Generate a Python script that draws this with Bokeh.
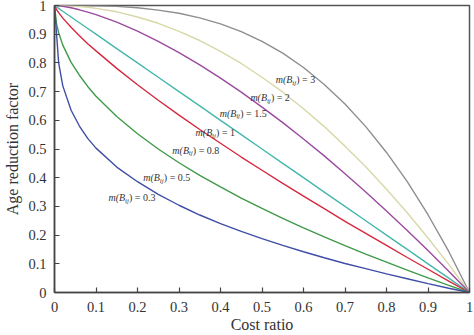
from bokeh.plotting import figure
from bokeh.embed import file_html
from bokeh.resources import INLINE
from bokeh.models import FixedTicker, CustomJSTickFormatter, Range1d, ColumnDataSource
from bokeh.core.properties import value

# ---- data ----
cost_ratio = [0, 0.005, 0.01, 0.02, 0.04, 0.06, 0.08, 0.1, 0.15, 0.2, 0.25, 0.3, 0.35,
              0.4, 0.45, 0.5, 0.55, 0.6, 0.65, 0.7, 0.75, 0.8, 0.85, 0.9, 0.95, 1]
arf_m03 = [1, 0.90, 0.80, 0.72, 0.635, 0.58, 0.537, 0.503, 0.437, 0.386, 0.342, 0.304, 0.270,
           0.240, 0.213, 0.188, 0.164, 0.142, 0.121, 0.101, 0.083, 0.065, 0.048, 0.031, 0.015, 0]
arf_m05 = [1, 0.935, 0.905, 0.862, 0.802, 0.757, 0.718, 0.684, 0.613, 0.553, 0.5, 0.452, 0.408,
           0.368, 0.329, 0.293, 0.258, 0.225, 0.194, 0.163, 0.134, 0.106, 0.078, 0.051, 0.025, 0]
arf_m08 = [1, 0.986, 0.975, 0.956, 0.924, 0.895, 0.867, 0.842, 0.781, 0.724, 0.670, 0.618, 0.568,
           0.520, 0.472, 0.426, 0.380, 0.336, 0.292, 0.248, 0.206, 0.164, 0.122, 0.081, 0.040, 0]
arf_m1 = [1, 0.995, 0.99, 0.98, 0.96, 0.94, 0.92, 0.9, 0.85, 0.8, 0.75, 0.7, 0.65,
          0.6, 0.55, 0.5, 0.45, 0.4, 0.35, 0.3, 0.25, 0.2, 0.15, 0.1, 0.05, 0]
arf_m15 = [1, 1.0, 0.999, 0.997, 0.992, 0.985, 0.977, 0.968, 0.942, 0.911, 0.875, 0.836, 0.793,
           0.747, 0.698, 0.646, 0.592, 0.535, 0.476, 0.414, 0.350, 0.284, 0.216, 0.146, 0.074, 0]
arf_m2 = [1, 1, 1, 1, 0.998, 0.996, 0.994, 0.99, 0.978, 0.96, 0.938, 0.91, 0.878,
          0.84, 0.798, 0.75, 0.698, 0.64, 0.578, 0.51, 0.438, 0.36, 0.278, 0.19, 0.098, 0]
arf_m3 = [1, 1, 1, 1, 1, 1, 0.999, 0.999, 0.997, 0.992, 0.984, 0.973, 0.957,
          0.936, 0.909, 0.875, 0.834, 0.784, 0.725, 0.657, 0.578, 0.488, 0.386, 0.271, 0.143, 0]

m_values = ["3", "2", "1.5", "1", "0.8", "0.5", "0.3"]
series = [arf_m3, arf_m2, arf_m15, arf_m1, arf_m08, arf_m05, arf_m03]

x_ticks = [0, 0.1, 0.2, 0.3, 0.4, 0.5, 0.6, 0.7, 0.8, 0.9, 1]
x_tick_labels = ["0", "0.1", "0.2", "0.3", "0.4", "0.5", "0.6", "0.7", "0.8", "0.9", "1"]
y_ticks = [0, 0.1, 0.2, 0.3, 0.4, 0.5, 0.6, 0.7, 0.8, 0.9, 1]
y_tick_labels = ["0", "0.1", "0.2", "0.3", "0.4", "0.5", "0.6", "0.7", "0.8", "0.9", "1"]
x_title = "Cost ratio"
y_title = "Age reduction factor"

# ---- styling (kept separate) ----
colors = ["#8e8e8e", "#d8d8a8", "#9b4a9e", "#44b7ad", "#d6283e", "#3f9a48", "#3f4ea6"]
label_x = [0.533, 0.472, 0.398, 0.34, 0.284, 0.214, 0.13]
label_y = [0.742, 0.679, 0.624, 0.557, 0.495, 0.40, 0.331]

FONT = "Liberation Serif"
TXT = "#333333"

p = figure(width=474, height=335, output_backend="svg", toolbar_location=None,
           x_range=Range1d(0, 1), y_range=Range1d(0, 1),
           min_border_left=54, min_border_right=5, min_border_top=5, min_border_bottom=43)
p.background_fill_color = "white"
p.border_fill_color = "white"
p.xgrid.visible = False
p.ygrid.visible = False
p.outline_line_color = "#555555"
p.outline_line_width = 1.5

for ys, c in zip(series, colors):
    p.line(cost_ratio, ys, line_color=c, line_width=1.4)

# curve labels: italic "m(B", subscript "ij", upright ") = value"
src = ColumnDataSource(dict(x=label_x, y=label_y,
                            t1=["m(B"] * len(m_values),
                            t2=["ij"] * len(m_values),
                            t3=[") = " + m for m in m_values]))
p.text(x="x", y="y", text="t1", source=src, text_font=value(FONT), text_font_size="10px",
       text_font_style="italic", text_color=TXT, text_baseline="middle", text_align="left")
p.text(x="x", y="y", text="t2", source=src, text_font=value(FONT), text_font_size="7px",
       text_font_style="italic", text_color=TXT, text_baseline="middle", text_align="left",
       x_offset=16.5, y_offset=3)
p.text(x="x", y="y", text="t3", source=src, text_font=value(FONT), text_font_size="10px",
       text_color=TXT, text_baseline="middle", text_align="left", x_offset=20.5)

fmt_code = """
let best = 0; let d = 1e9;
for (let i = 0; i < tvals.length; i++) {
  const dd = Math.abs(tvals[i] - tick);
  if (dd < d) { d = dd; best = i; }
}
return tlabels[best];
"""

for ax, tk, lb, title in [(p.xaxis[0], x_ticks, x_tick_labels, x_title),
                          (p.yaxis[0], y_ticks, y_tick_labels, y_title)]:
    ax.ticker = FixedTicker(ticks=tk)
    ax.formatter = CustomJSTickFormatter(args=dict(tvals=tk, tlabels=lb), code=fmt_code)
    ax.major_tick_in = 5
    ax.major_tick_out = 0
    ax.minor_tick_line_color = None
    ax.axis_line_color = "#444444"
    ax.axis_line_width = 1.5
    ax.major_tick_line_color = "#444444"
    ax.major_tick_line_width = 1.2
    ax.major_label_text_font = FONT
    ax.major_label_text_font_size = "14.5px"
    ax.major_label_text_color = TXT
    ax.axis_label = title
    ax.axis_label_text_font = FONT
    ax.axis_label_text_font_size = "16px"
    ax.axis_label_text_font_style = "normal"
    ax.axis_label_text_color = TXT
    ax.axis_label_text_line_height = 0.8

p.xaxis.major_label_standoff = 9
p.xaxis.axis_label_standoff = 1
p.yaxis.major_label_standoff = 8
p.yaxis.axis_label_standoff = 4

open("out.html", "w").write(file_html(p, INLINE))
